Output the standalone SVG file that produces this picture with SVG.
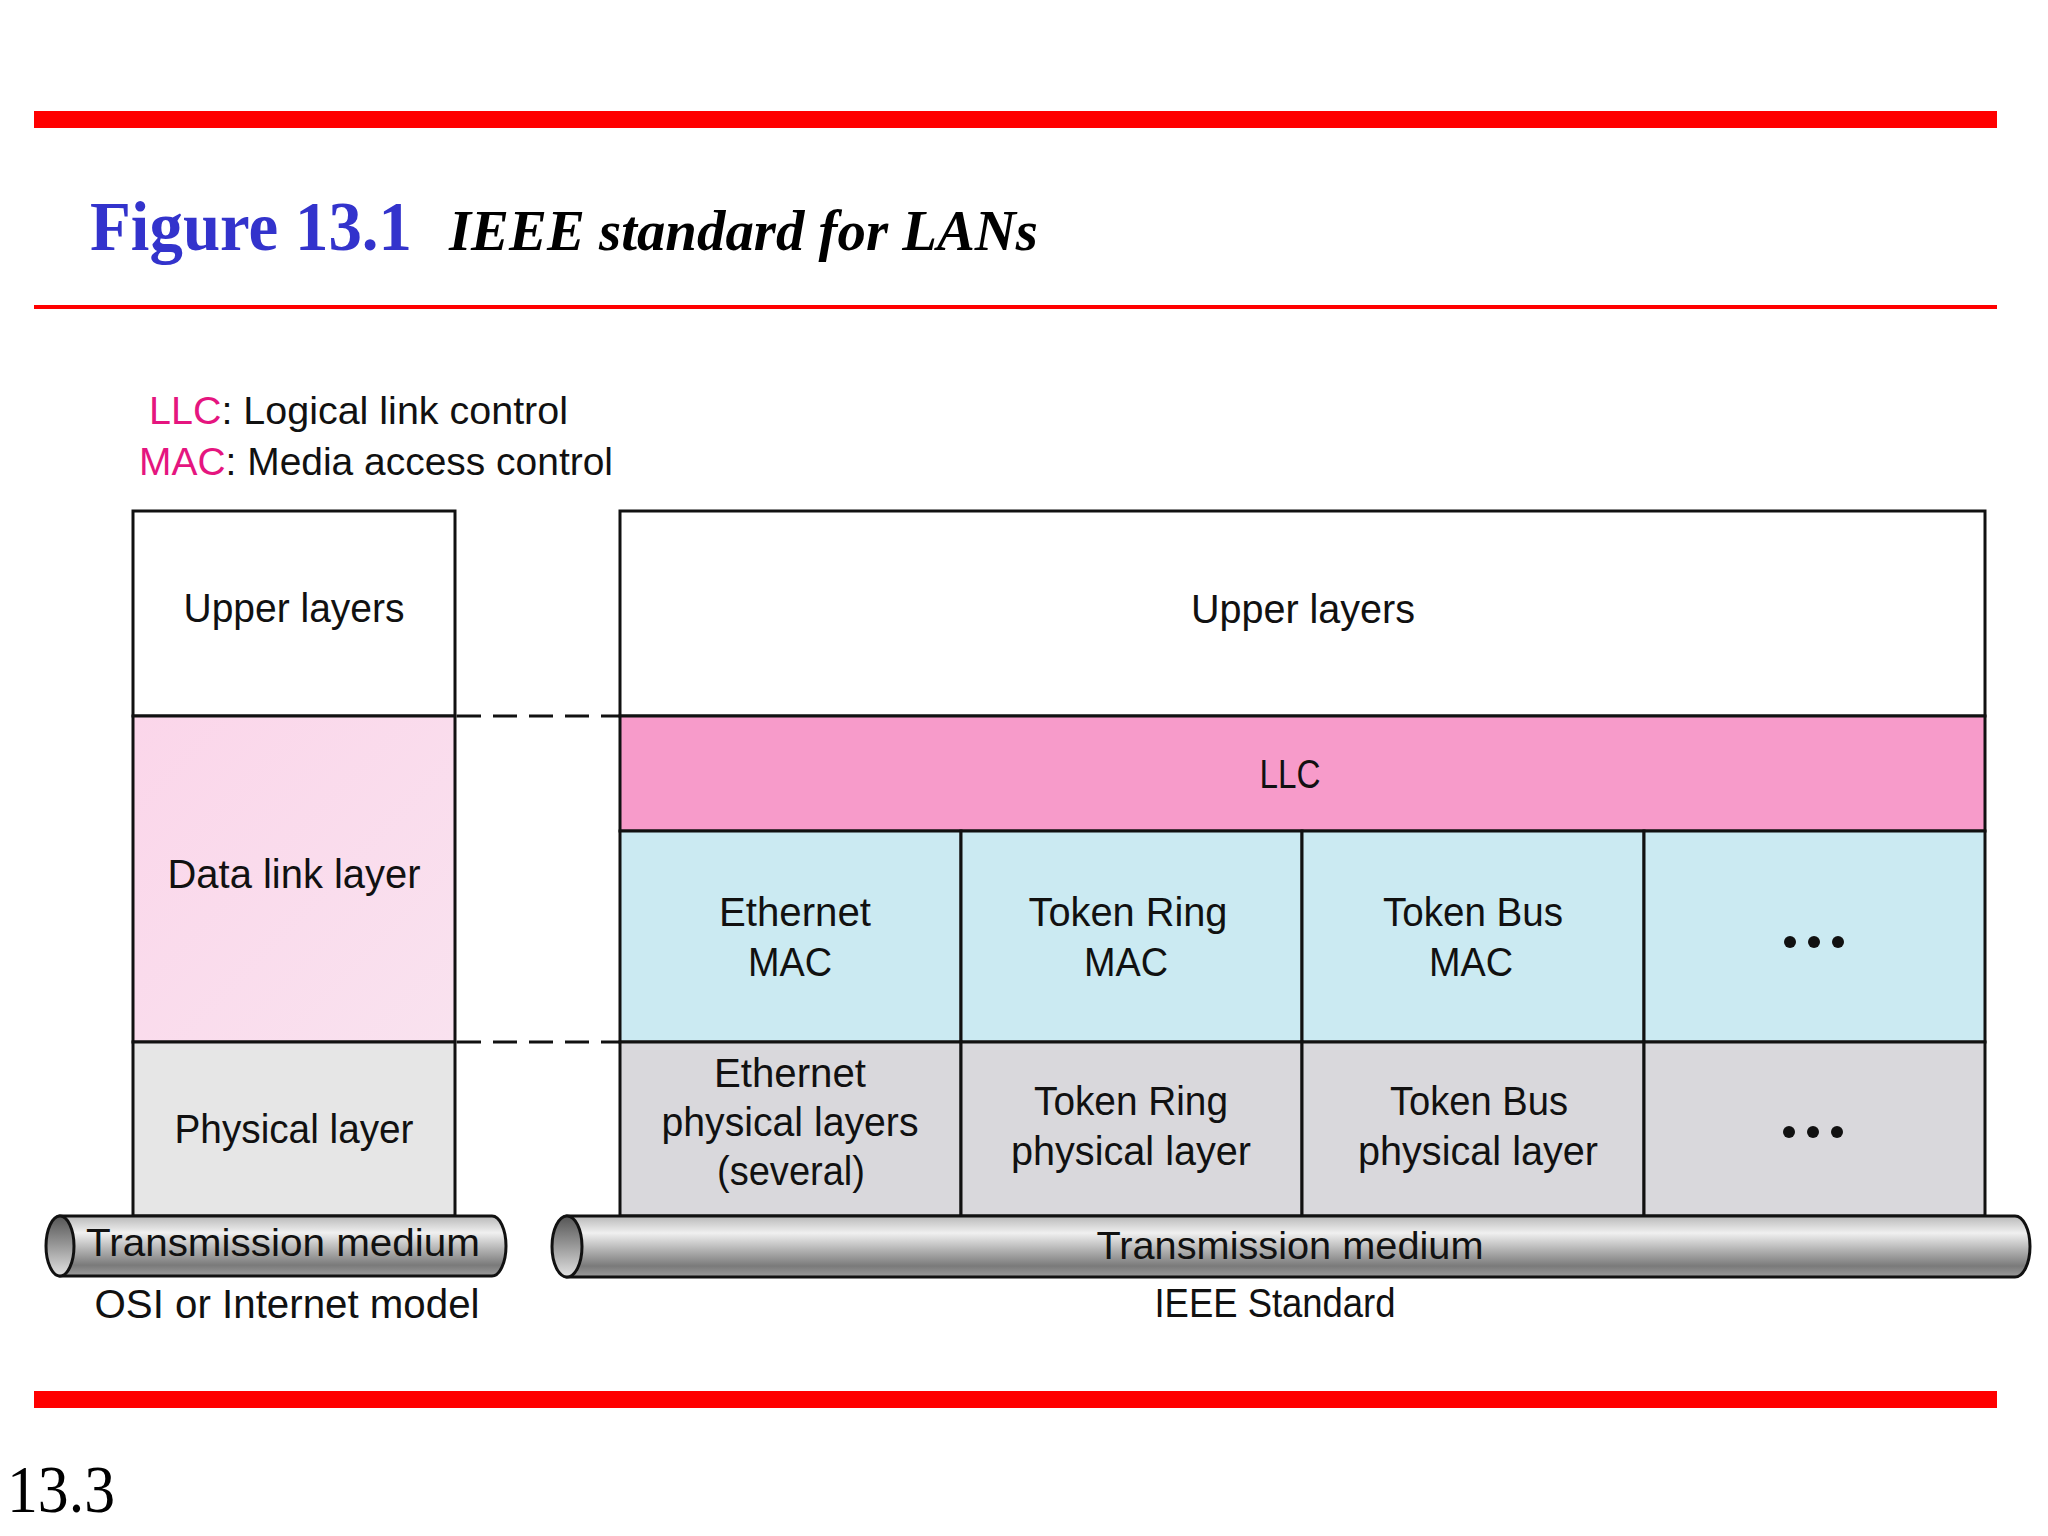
<svg xmlns="http://www.w3.org/2000/svg" width="2048" height="1536" viewBox="0 0 2048 1536">
<defs>
<linearGradient id="tube" x1="0" y1="0" x2="0" y2="1">
<stop offset="0" stop-color="#b8b8b8"/>
<stop offset="0.28" stop-color="#f0f0f0"/>
<stop offset="0.55" stop-color="#b4b4b4"/>
<stop offset="0.82" stop-color="#7a7a7a"/>
<stop offset="1" stop-color="#9c9c9c"/>
</linearGradient>
<linearGradient id="tubeEnd" x1="0" y1="0" x2="0" y2="1">
<stop offset="0" stop-color="#555555"/>
<stop offset="0.5" stop-color="#9a9a9a"/>
<stop offset="1" stop-color="#e2e2e2"/>
</linearGradient>
<linearGradient id="pinkGrad" x1="0" y1="0" x2="1" y2="1">
<stop offset="0" stop-color="#fbd6ea"/>
<stop offset="1" stop-color="#f9e2ef"/>
</linearGradient>
</defs>
<style>
.t{font-family:"Liberation Sans",Arial,sans-serif;font-size:40px;fill:#111;text-anchor:middle}
.tb{font-family:"Liberation Sans",Arial,sans-serif;font-size:39px;fill:#111;text-anchor:middle}
.leg{font-family:"Liberation Sans",Arial,sans-serif;font-size:38px;fill:#111}
.mag{fill:#e5157f}
.box{stroke:#111;stroke-width:3}
.dash{stroke:#111;stroke-width:3;stroke-dasharray:24 12;fill:none}
.tubeBody{fill:url(#tube);stroke:#111;stroke-width:3}
.tubeCap{fill:url(#tubeEnd);stroke:#111;stroke-width:3}
.dot{fill:#111}
</style>
<rect width="2048" height="1536" fill="#ffffff"/>
<rect x="34" y="111" width="1963" height="17" fill="#ff0000"/>
<rect x="34" y="305" width="1963" height="4" fill="#ff0000"/>
<rect x="34" y="1391" width="1963" height="17" fill="#ff0000"/>
<g id="title">
<text x="90" y="250" font-family="'Liberation Serif','Times New Roman',serif" font-weight="bold" font-size="70" fill="#3333cc" textLength="322" lengthAdjust="spacingAndGlyphs">Figure 13.1</text>
<text x="449" y="250" font-family="'Liberation Serif','Times New Roman',serif" font-weight="bold" font-style="italic" font-size="58" fill="#000" textLength="589" lengthAdjust="spacingAndGlyphs">IEEE standard for LANs</text>
</g>
<g id="legend">
<text class="leg" x="149" y="424" textLength="419" lengthAdjust="spacingAndGlyphs"><tspan class="mag">LLC</tspan>: Logical link control</text>
<text class="leg" x="139" y="475" textLength="474" lengthAdjust="spacingAndGlyphs"><tspan class="mag">MAC</tspan>: Media access control</text>
</g>
<g id="osi-upper">
<rect class="box" x="133" y="511" width="322" height="205" fill="#ffffff"/>
<text class="t" x="294" y="622" textLength="221" lengthAdjust="spacingAndGlyphs">Upper layers</text>
</g>
<g id="osi-datalink">
<rect class="box" x="133" y="716" width="322" height="326" fill="url(#pinkGrad)"/>
<text class="t" x="294" y="888" textLength="253" lengthAdjust="spacingAndGlyphs">Data link layer</text>
</g>
<g id="osi-physical">
<rect class="box" x="133" y="1042" width="322" height="174" fill="#e6e6e6"/>
<text class="t" x="294" y="1143" textLength="239" lengthAdjust="spacingAndGlyphs">Physical layer</text>
</g>
<g id="ieee-upper">
<rect class="box" x="620" y="511" width="1365" height="205" fill="#ffffff"/>
<text class="t" x="1303" y="623" textLength="224" lengthAdjust="spacingAndGlyphs">Upper layers</text>
</g>
<g id="ieee-llc">
<rect class="box" x="620" y="716" width="1365" height="115" fill="#f79bca"/>
<text class="t" x="1290" y="788" textLength="61" lengthAdjust="spacingAndGlyphs">LLC</text>
</g>
<g id="mac-ethernet">
<rect class="box" x="620" y="831" width="341" height="211" fill="#cbeaf2"/>
<text class="t" x="795" y="926" textLength="152" lengthAdjust="spacingAndGlyphs">Ethernet</text>
<text class="t" x="790" y="976" textLength="84" lengthAdjust="spacingAndGlyphs">MAC</text>
</g>
<g id="mac-tokenring">
<rect class="box" x="961" y="831" width="341" height="211" fill="#cbeaf2"/>
<text class="t" x="1128" y="926" textLength="199" lengthAdjust="spacingAndGlyphs">Token Ring</text>
<text class="t" x="1126" y="976" textLength="84" lengthAdjust="spacingAndGlyphs">MAC</text>
</g>
<g id="mac-tokenbus">
<rect class="box" x="1302" y="831" width="342" height="211" fill="#cbeaf2"/>
<text class="t" x="1473" y="926" textLength="180" lengthAdjust="spacingAndGlyphs">Token Bus</text>
<text class="t" x="1471" y="976" textLength="84" lengthAdjust="spacingAndGlyphs">MAC</text>
</g>
<g id="mac-more">
<rect class="box" x="1644" y="831" width="341" height="211" fill="#cbeaf2"/>
<circle class="dot" cx="1790" cy="942" r="6"/>
<circle class="dot" cx="1814" cy="942" r="6"/>
<circle class="dot" cx="1838" cy="942" r="6"/>
</g>
<g id="phy-ethernet">
<rect class="box" x="620" y="1042" width="341" height="174" fill="#d9d8dc"/>
<text class="t" x="790" y="1087" textLength="152" lengthAdjust="spacingAndGlyphs">Ethernet</text>
<text class="t" x="790" y="1136" textLength="257" lengthAdjust="spacingAndGlyphs">physical layers</text>
<text class="t" x="791" y="1185" textLength="148" lengthAdjust="spacingAndGlyphs">(several)</text>
</g>
<g id="phy-tokenring">
<rect class="box" x="961" y="1042" width="341" height="174" fill="#d9d8dc"/>
<text class="t" x="1131" y="1115" textLength="194" lengthAdjust="spacingAndGlyphs">Token Ring</text>
<text class="t" x="1131" y="1165" textLength="240" lengthAdjust="spacingAndGlyphs">physical layer</text>
</g>
<g id="phy-tokenbus">
<rect class="box" x="1302" y="1042" width="342" height="174" fill="#d9d8dc"/>
<text class="t" x="1479" y="1115" textLength="178" lengthAdjust="spacingAndGlyphs">Token Bus</text>
<text class="t" x="1478" y="1165" textLength="240" lengthAdjust="spacingAndGlyphs">physical layer</text>
</g>
<g id="phy-more">
<rect class="box" x="1644" y="1042" width="341" height="174" fill="#d9d8dc"/>
<circle class="dot" cx="1789" cy="1132" r="6"/>
<circle class="dot" cx="1813" cy="1132" r="6"/>
<circle class="dot" cx="1837" cy="1132" r="6"/>
</g>
<g id="connectors">
<line class="dash" x1="457" y1="716" x2="619" y2="716"/>
<line class="dash" x1="457" y1="1042" x2="619" y2="1042"/>
</g>
<g id="osi-medium">
<path class="tubeBody" d="M60,1216 L492,1216 A14,30 0 0 1 492,1276 L60,1276 Z"/>
<ellipse class="tubeCap" cx="60" cy="1246" rx="14" ry="30"/>
<text class="tb" x="283" y="1256" textLength="394" lengthAdjust="spacingAndGlyphs">Transmission medium</text>
<text class="t" x="287" y="1318" textLength="385" lengthAdjust="spacingAndGlyphs">OSI or Internet model</text>
</g>
<g id="ieee-medium">
<path class="tubeBody" d="M567,1216 L2015,1216 A15,30.5 0 0 1 2015,1277 L567,1277 Z"/>
<ellipse class="tubeCap" cx="567" cy="1246.5" rx="15" ry="30.5"/>
<text class="tb" x="1290" y="1259" textLength="387" lengthAdjust="spacingAndGlyphs">Transmission medium</text>
<text class="t" x="1275" y="1317" textLength="241" lengthAdjust="spacingAndGlyphs">IEEE Standard</text>
</g>
<text x="7" y="1512" font-family="'Liberation Serif','Times New Roman',serif" font-size="68" fill="#000" textLength="108" lengthAdjust="spacingAndGlyphs">13.3</text>
</svg>
